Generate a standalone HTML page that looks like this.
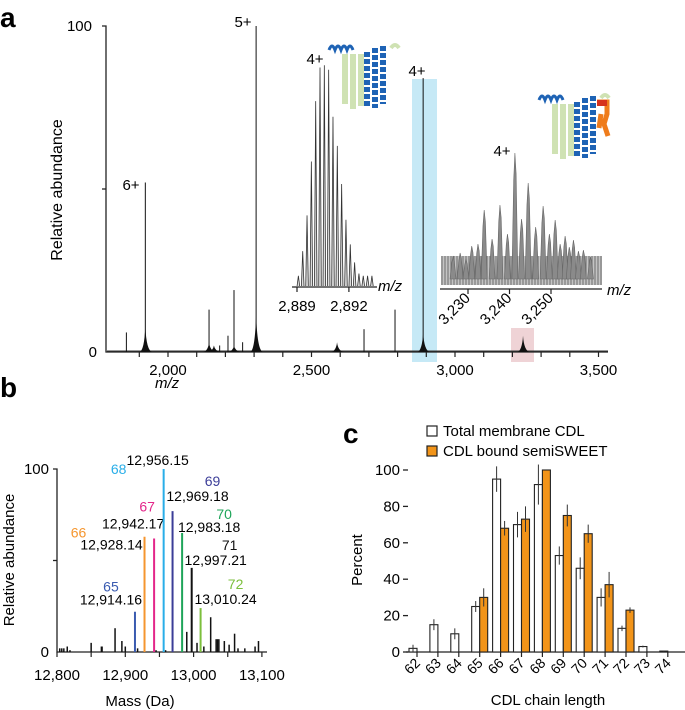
<!DOCTYPE html>
<html><head><meta charset="utf-8"><style>
html,body{margin:0;padding:0;background:#fff;}
svg{display:block;font-family:"Liberation Sans",Arial,sans-serif;}
</style></head><body>
<svg id="fig" width="685" height="710" viewBox="0 0 685 710" xmlns="http://www.w3.org/2000/svg">
<defs>
<pattern id="noise" width="3" height="30" patternUnits="userSpaceOnUse">
<rect width="3" height="30" fill="#c4c4c4"/>
<line x1="1" x2="1" y1="0" y2="30" stroke="#7a7a7a" stroke-width="1.2"/>
</pattern>
</defs>
<g id="pa"></g>
<g id="pb"></g>
<g id="pc"></g>
</svg>
<script>
// ---- Panel a data ----
const aPeakMz = [1855, 1921, 2143, 2209, 2230, 2307, 2589, 2683, 2791, 2889, 3237, 2260, 2180];
const aPeakH  = [6, 52, 13, 5, 19, 100, 2, 7, 13, 84, 3, 3, 2];
const aHumpMz = [1921, 2143, 2230, 2307, 2589, 2889, 3237, 2160];
const aHumpH  = [8, 3, 2, 12, 3, 6, 5, 2];
const aTicks = [2000, 2500, 3000, 3500];
const aTickLabels = ["2,000", "2,500", "3,000", "3,500"];
// inset 1 isotope peaks
const in1Mz = [2889.08,2889.33,2889.58,2889.83,2890.08,2890.33,2890.58,2890.83,2891.08,2891.33,2891.58,2891.83,2892.08,2892.33,2892.58,2892.83,2893.08,2893.33];
const in1H  = [0.05,0.16,0.32,0.56,0.83,0.98,0.99,0.97,0.76,0.63,0.46,0.30,0.19,0.11,0.06,0.05,0.05,0.05];
// inset 2 peaks
const in2Mz = [3226.4,3228.1,3229.5,3230.9,3232.4,3233.9,3235.8,3237.7,3239.5,3241.3,3242.9,3244.5,3246.3,3248.1,3249.6,3251,3252.2,3253.4,3254.4,3255.4,3256.6,3257.8,3259.5];
const in2H  = [33,36,30,43,45,79,50,84,55,136,70,106,62,83,55,69,45,53,42,49,38,39,32];

// ---- Panel b data ----
const bMass = [12914.16,12928.14,12942.17,12956.15,12969.18,12983.18,12997.21,13010.24];
const bAbund = [22,63,62,100,77,65,46,24];
const bColors = ["#3a5bb0","#f5962f","#e3268a","#29aee8","#3b3d98","#1fa55a","#111111","#7cbf3c"];
const bChain = ["65","66","67","68","69","70","71","72"];
const bMassLabel = ["12,914.16","12,928.14","12,942.17","12,956.15","12,969.18","12,983.18","12,997.21","13,010.24"];
const bMinorMass = [12804,12807,12810,12815,12819,12850,12865,12866,12885,12895,12900,12918,12945,12959,12990,13005,13015,13025,13033,13035,13037,13045,13052,13060,13065,13075,13090,13095];
const bMinorH   = [2,2,2,3,1,5,3,3,13,6,3,2,1,1,11,5,3,19,7,7,7,6,4,10,2,2,3,6];
const bTicks = [12800,12900,13000,13100];
const bTickLabels = ["12,800","12,900","13,000","13,100"];

// ---- Panel c data ----
const cCats = ["62","63","64","65","66","67","68","69","70","71","72","73","74"];
const cTotal = [2,15,10,25,95,70,92,53,46,30,13,3,0.5];
const cTotalErr = [2,3,3,3,7,7,11,5,6,5,1.5,0.5,0.3];
const cBound = [null,null,null,30,68,73,100,75,65,37,23,null,null];
const cBoundErr = [0,0,0,5,4,7,0,6,5,7,1.5,0,0];
const cYTicks = [0,20,40,60,80,100];

const NS="http://www.w3.org/2000/svg";
function mk(parent, tag, attrs, text){
  const e=document.createElementNS(NS,tag);
  for(const k in attrs) e.setAttribute(k,attrs[k]);
  if(text!==undefined) e.textContent=text;
  parent.appendChild(e); return e;
}
const pa=document.getElementById('pa'), pb=document.getElementById('pb'), pc=document.getElementById('pc');

// ================= Panel A =================
const xa=m=>168+(m-2000)*0.287;
const ya=v=>352-v*3.26;
let t;
t=mk(pa,'text',{x:0,y:27,'font-size':28,'font-weight':'bold'},'a');


t=mk(pa,'rect',{x:412,y:79,width:25,height:283,fill:'#c6e9f6'});


t=mk(pa,'rect',{x:511,y:328,width:23,height:34,fill:'#efd3d6'});


t=mk(pa,'path',{d:'M102 26H106V352H608',stroke:'#222','stroke-width':1.3,fill:'none'});


mk(pa,'line',{x1:102,x2:106,y1:ya(50),y2:ya(50),stroke:'#222','stroke-width':1.3});
for(let m=1900;m<=3500;m+=100){ mk(pa,'line',{x1:xa(m),x2:xa(m),y1:352,y2:357,stroke:'#222','stroke-width':1.2}); }
aTicks.forEach((m,i)=>{
  t=mk(pa,'text',{x:xa(m),y:375,'font-size':15,'text-anchor':'middle'},aTickLabels[i]);
  
  
});
t=mk(pa,'text',{x:92,y:31,'font-size':15,'text-anchor':'end'},'100');


t=mk(pa,'text',{x:97,y:357,'font-size':15,'text-anchor':'end'},'0');


t=mk(pa,'text',{x:62,y:190,'font-size':16,'text-anchor':'middle',transform:'rotate(-90 62 190)'},'Relative abundance');


t=mk(pa,'text',{x:155,y:388,'font-size':15,'font-style':'italic'},'m/z');


mk(pa,'line',{x1:107,x2:608,y1:351,y2:351,stroke:'#333','stroke-width':1});
aHumpMz.forEach((m,i)=>{
  const x=xa(m);
  t=mk(pa,'path',{d:`M${x-6} 352Q${x-1} 351 ${x} ${ya(aHumpH[i])}Q${x+1} 351 ${x+7} 352Z`,fill:'#111'});
  
  
});
aPeakMz.forEach((m,i)=>{
  t=mk(pa,'line',{x1:xa(m),x2:xa(m),y1:352,y2:ya(aPeakH[i]),stroke:'#111','stroke-width':1});
  
  
});
[['6+',131,190],['5+',243,27],['4+',417,76],['4+',315,64],['4+',502,156]].forEach(l=>{
  t=mk(pa,'text',{x:l[1],y:l[2],'font-size':15,'text-anchor':'middle'},l[0]);
  
  
});
// inset 1
const x1=m=>297+(m-2889)*17.3, base1=287;
mk(pa,'line',{x1:292,x2:377,y1:base1,y2:base1,stroke:'#222','stroke-width':1.3});
[[2889,'2,889'],[2892,'2,892']].forEach(p=>{
  mk(pa,'line',{x1:x1(p[0]),x2:x1(p[0]),y1:base1,y2:base1+5,stroke:'#222','stroke-width':1.2});
  t=mk(pa,'text',{x:x1(p[0]),y:base1+24,'font-size':15,'text-anchor':'middle'},p[1]);
  
  
});
t=mk(pa,'text',{x:378,y:base1+4,'font-size':15,'font-style':'italic'},'m/z');


in1Mz.forEach((m,i)=>{
  const x=x1(m);
  t=mk(pa,'path',{d:`M${x-1.3} ${base1-1}L${x} ${base1-in1H[i]*224}L${x+1.3} ${base1-1}`,stroke:'#333','stroke-width':0.8,fill:'#ddd'});
  
  
});
// inset 2
const x2=m=>468+(m-3230)*4.15, base2=289;
mk(pa,'line',{x1:440,x2:602,y1:base2,y2:base2,stroke:'#222','stroke-width':1.3});
t=mk(pa,'rect',{x:441,y:256,width:161,height:29,fill:'url(#noise)'});


in2Mz.forEach((m,i)=>{
  const x=x2(m);
  t=mk(pa,'path',{d:`M${x-3} ${base2-10}L${x-1.2} ${base2-in2H[i]*0.8}L${x} ${base2-in2H[i]}L${x+1.2} ${base2-in2H[i]*0.85}L${x+3} ${base2-10}Z`,fill:'#8a8a8a',stroke:'#666','stroke-width':0.6});
  
  
});
[[3230,'3,230'],[3240,'3,240'],[3250,'3,250']].forEach(p=>{
  const x=x2(p[0]);
  mk(pa,'line',{x1:x,x2:x,y1:base2,y2:base2+5,stroke:'#222','stroke-width':1.2});
  t=mk(pa,'text',{x:x+3,y:base2+10,'font-size':15,'text-anchor':'end',transform:`rotate(-45 ${x+3} ${base2+10})`},p[1]);
  
  
});
t=mk(pa,'text',{x:607,y:base2+6,'font-size':15,'font-style':'italic'},'m/z');


function protein(x0,y0,lipid){
  const g=mk(pa,'g',{transform:`translate(${x0} ${y0})`});
  
  
  mk(g,'path',{d:'M18 14v50M26 14v55M34 14v52',stroke:'#cfe2b3','stroke-width':6,fill:'none'});
  mk(g,'path',{d:'M64 8q4 -6 8 0',stroke:'#cfe2b3','stroke-width':4,fill:'none'});
  mk(g,'path',{d:'M2 10q3 -8 6 0q3 -8 6 0q3 -8 6 0q3 -8 6 0',stroke:'#1e63b5','stroke-width':3,fill:'none'});
  mk(g,'path',{d:'M40 12v54M48 8v60M56 6v58',stroke:'#1e63b5','stroke-width':6,fill:'none','stroke-dasharray':'5 2'});
  if(lipid){ mk(g,'path',{d:'M60 12h10v12l-3 10 4 12M64 24l-2 14',stroke:'#ef7c1c','stroke-width':5,fill:'none'}); mk(g,'rect',{x:60,y:10,width:10,height:6,fill:'#d6321e'}); }
}
protein(327,40,false);
protein(537,90,true);

// ================= Panel B =================
const xb=m=>57+(m-12800)*0.683;
const yb=v=>652-v*1.83;
t=mk(pb,'text',{x:0,y:397,'font-size':28,'font-weight':'bold'},'b');


t=mk(pb,'path',{d:`M53 469H57V652H267`,stroke:'#222','stroke-width':1.3,fill:'none'});


mk(pb,'line',{x1:53,x2:57,y1:yb(50),y2:yb(50),stroke:'#222','stroke-width':1.3});
for(let m=12800;m<=13100;m+=50) mk(pb,'line',{x1:xb(m),x2:xb(m),y1:652,y2:657,stroke:'#222','stroke-width':1.2});
bTicks.forEach((m,i)=>{
  t=mk(pb,'text',{x:xb(m),y:680,'font-size':15,'text-anchor':'middle'},bTickLabels[i]);
  
  
});
t=mk(pb,'text',{x:49,y:474,'font-size':15,'text-anchor':'end'},'100');


t=mk(pb,'text',{x:49,y:657,'font-size':15,'text-anchor':'end'},'0');


t=mk(pb,'text',{x:14,y:560,'font-size':15,'text-anchor':'middle',transform:'rotate(-90 14 560)'},'Relative abundance');


t=mk(pb,'text',{x:140,y:706,'font-size':15,'text-anchor':'middle'},'Mass (Da)');


bMinorMass.forEach((m,i)=>{
  t=mk(pb,'line',{x1:xb(m),x2:xb(m),y1:652,y2:yb(bMinorH[i]),stroke:'#111','stroke-width':1.5});
  
  
});
// label offsets relative to peak top: [chainDx, chainDy, massDx, massDy]
const bLab=[[-24,-25,-24,-12],[-66,-4,-33,8],[-7,-32,-21,-15],[-45,0,-6,-9],[40,-30,25,-15],[42,-19,27,-6],[38,-23,24,-8],[35,-24,25,-9]];
bMass.forEach((m,i)=>{
  const x=xb(m), y=yb(bAbund[i]);
  t=mk(pb,'line',{x1:x,x2:x,y1:652,y2:y,stroke:bColors[i],'stroke-width':2});
  
  
  const o=bLab[i];
  t=mk(pb,'text',{x:x+o[0],y:y+o[1]+5,'font-size':14,fill:bColors[i],'text-anchor':'middle'},bChain[i]);
  
  
  t=mk(pb,'text',{x:x+o[2],y:y+o[3]+5,'font-size':14,'text-anchor':'middle'},bMassLabel[i]);
  
  
});

// ================= Panel C =================
const xc=i=>417+i*20.9;
const yc=v=>652-v*1.82;
t=mk(pc,'text',{x:343,y:443,'font-size':28,'font-weight':'bold'},'c');


t=mk(pc,'rect',{x:427,y:426,width:10,height:10,fill:'#fff',stroke:'#222','stroke-width':1.2});


t=mk(pc,'text',{x:443,y:436,'font-size':15},'Total membrane CDL');


t=mk(pc,'rect',{x:427,y:446,width:10,height:10,fill:'#f29419',stroke:'#222','stroke-width':1.2});


t=mk(pc,'text',{x:443,y:456,'font-size':15},'CDL bound semiSWEET');


t=mk(pc,'line',{x1:406,x2:685,y1:652,y2:652,stroke:'#222','stroke-width':1.3});


cYTicks.forEach(v=>{
  mk(pc,'line',{x1:403,x2:408,y1:yc(v),y2:yc(v),stroke:'#222','stroke-width':1.3});
  t=mk(pc,'text',{x:400,y:yc(v)+5,'font-size':15,'text-anchor':'end'},String(v));
  
  
});
t=mk(pc,'text',{x:362,y:560,'font-size':15,'text-anchor':'middle',transform:'rotate(-90 362 560)'},'Percent');


t=mk(pc,'text',{x:548,y:705,'font-size':15,'text-anchor':'middle'},'CDL chain length');


cCats.forEach((c,i)=>{
  const x=xc(i);
  mk(pc,'line',{x1:x,x2:x,y1:652,y2:657,stroke:'#222','stroke-width':1.2});
  t=mk(pc,'text',{x:x+4,y:664,'font-size':14,'text-anchor':'end',transform:`rotate(-45 ${x+4} 664)`},c);
  
  
  t=mk(pc,'rect',{x:x-8,y:yc(cTotal[i]),width:8,height:652-yc(cTotal[i]),fill:'#fff',stroke:'#222','stroke-width':1.1});
  
  
  mk(pc,'line',{x1:x-4,x2:x-4,y1:yc(cTotal[i]+cTotalErr[i]),y2:yc(Math.max(0,cTotal[i]-cTotalErr[i])),stroke:'#333','stroke-width':1});
  if(cBound[i]!==null){
    t=mk(pc,'rect',{x:x,y:yc(cBound[i]),width:8,height:652-yc(cBound[i]),fill:'#f29419',stroke:'#222','stroke-width':1.1});
    
    
    mk(pc,'line',{x1:x+4,x2:x+4,y1:yc(cBound[i]+cBoundErr[i]),y2:yc(cBound[i]-cBoundErr[i]),stroke:'#333','stroke-width':1});
  }
});
</script>
</body></html>
